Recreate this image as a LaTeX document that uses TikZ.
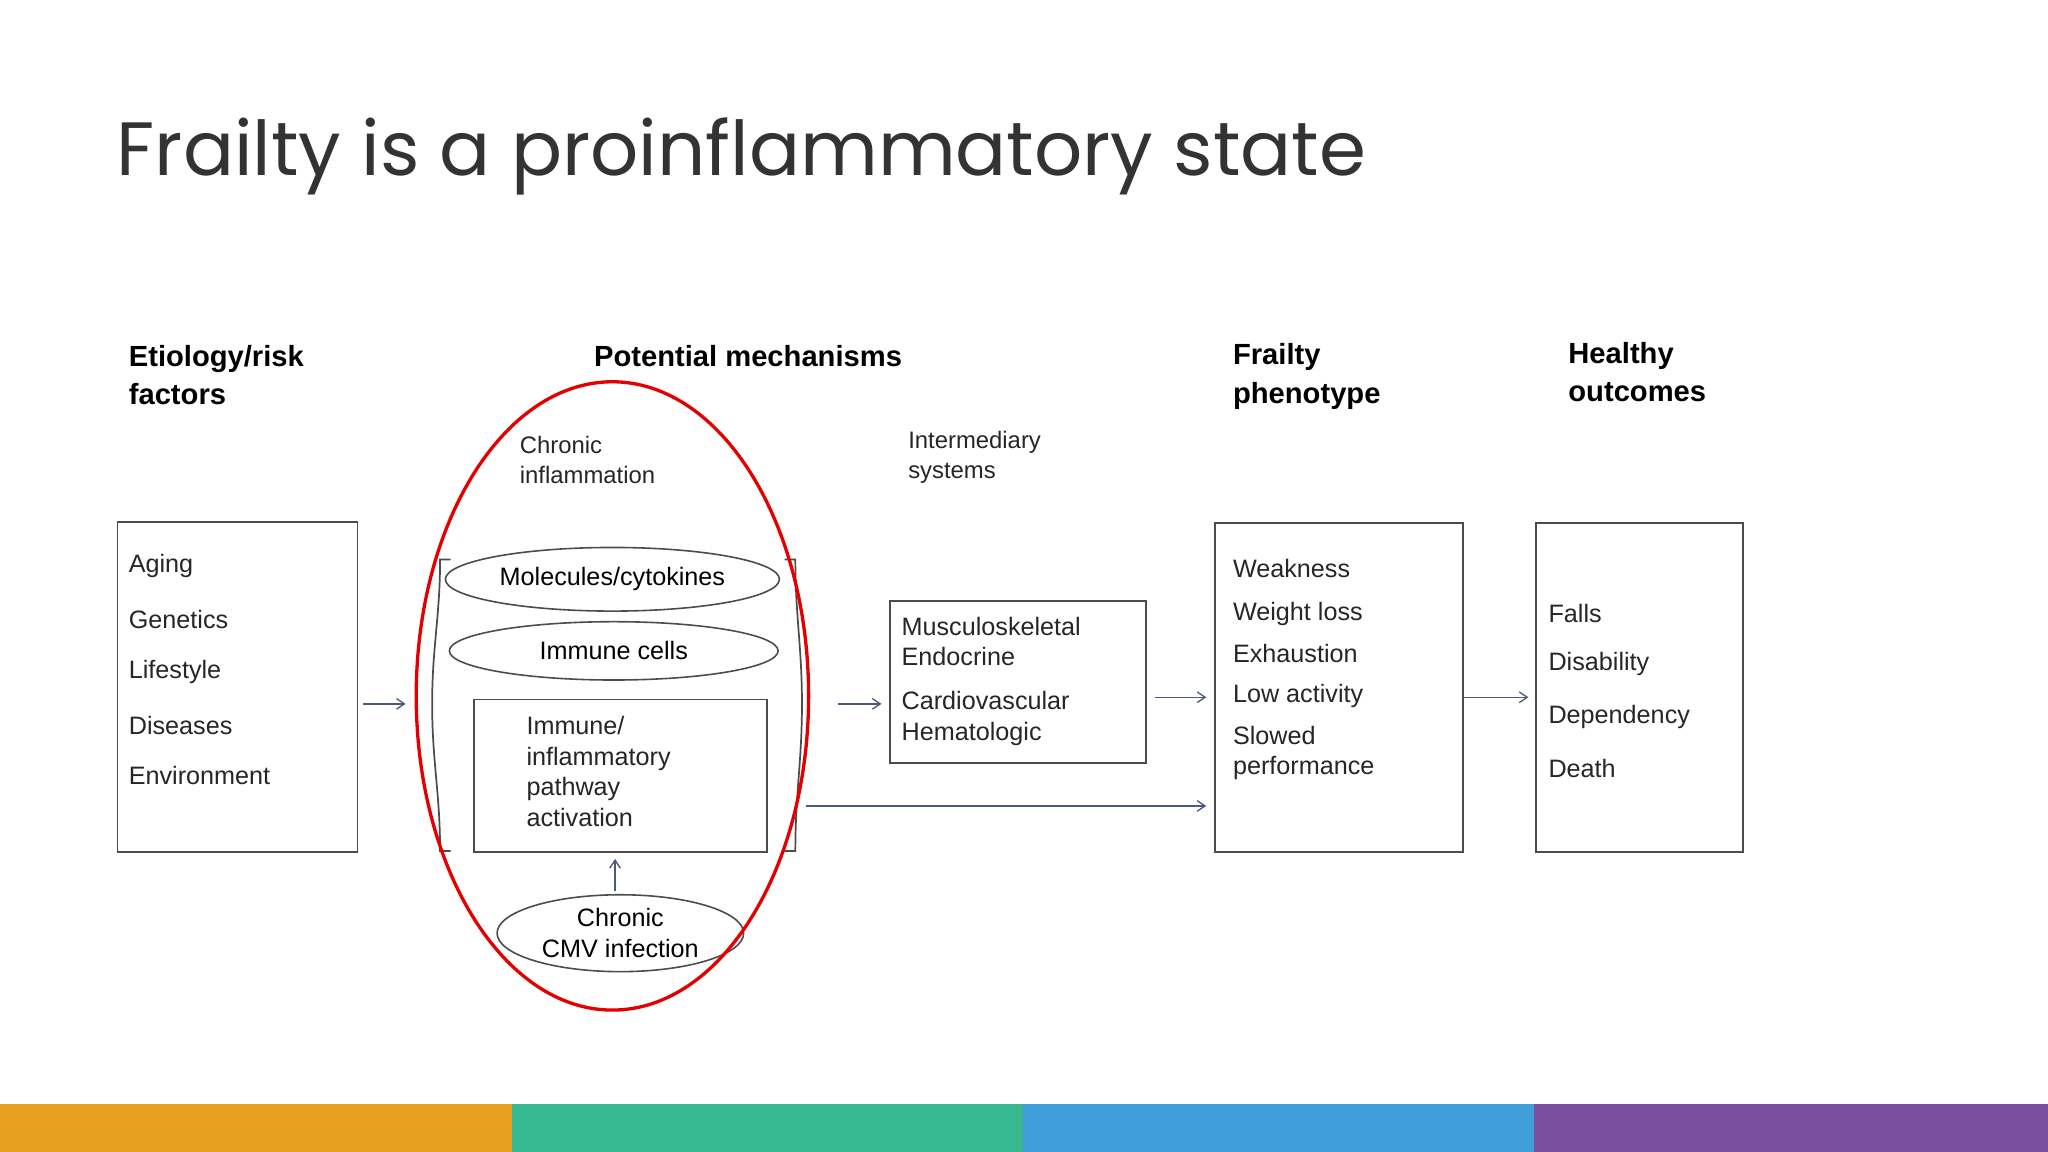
\documentclass[tikz,border=0pt]{standalone}
\usepackage{fontspec}
\setmainfont{Liberation Sans}
\newfontfamily\titlefont{Poppins}
\usetikzlibrary{arrows.meta,shapes.geometric}
\definecolor{arr}{HTML}{4A5A7A}
\definecolor{barA}{HTML}{E8A020}
\definecolor{barB}{HTML}{38B890}
\definecolor{barC}{HTML}{409FD8}
\definecolor{barD}{HTML}{7B4FA0}
\begin{document}
\begin{tikzpicture}[x=1pt,y=-1pt,
  txt/.style={anchor=west,inner sep=0,font=\fontsize{19}{23}\selectfont,text=black!85,align=left},
  hd/.style={anchor=north west,inner sep=0,font=\fontsize{22}{29}\selectfont\bfseries,align=left},
  bx/.style={draw=black!70,line width=1.3pt},
  el/.style={draw=black!70,line width=1.2pt,ellipse,inner sep=0,align=center,font=\fontsize{19}{23}\selectfont},
  ar/.style={draw=arr,line width=1pt,-{Straight Barb[length=6pt,width=8pt]}}]
\useasboundingbox (0,0) rectangle (1545,869);
\fill[white] (0,0) rectangle (1545,869);
\fill[barA] (0,833) rectangle (386,869);
\fill[barB] (386,833) rectangle (772,869);
\fill[barC] (772,833) rectangle (1157,869);
\fill[barD] (1157,833) rectangle (1545,869);
\node[anchor=west,inner sep=0,font=\fontsize{57}{66}\selectfont\titlefont,text=black!80] (title) at (88,118) {Frailty is a proinflammatory state};
% headers
\node[hd] (h1) at (97,260) {Etiology/risk\\factors};
\node[hd] (h2) at (448,260) {Potential mechanisms};
\node[hd] (h3) at (930,259) {Frailty\\phenotype};
\node[hd] (h4) at (1183,258) {Healthy\\outcomes};
% box 1
\node[bx,minimum width=181,minimum height=249,anchor=north west] (b1) at (88,393) {};
\node[txt] (a1) at (97,427) {Aging};
\node[txt] (a2) at (97,467) {Genetics};
\node[txt] (a3) at (97,507) {Lifestyle};
\node[txt] (a4) at (97,547) {Diseases};
\node[txt] (a5) at (97,585) {Environment};
\coordinate (p1) at (274,531); \coordinate (p2) at (306,531);
\draw[ar] (p1) -- (p2);
% brackets
\draw[black!70,line width=1.3pt] (340,422) -- (332,422) to[out=-90,in=90] (326,531) to[out=-90,in=90] (332,642) -- (340,642);
\draw[black!70,line width=1.3pt] (592,422) -- (600,422) to[out=-90,in=90] (605,531) to[out=-90,in=90] (600,642) -- (592,642);
\node[txt,font=\fontsize{18}{23}\selectfont] (ci) at (392,347) {Chronic\\inflammation};
\node[el,minimum width=252,minimum height=48] (m1) at (462,437) {Molecules/cytokines};
\node[el,minimum width=248,minimum height=44] (m2) at (463,491) {Immune cells};
\node[bx,minimum width=221,minimum height=115,anchor=north west] (m3) at (357,527) {};
\node[txt] (m3t) at (397,582) {Immune/\\inflammatory\\pathway\\activation};
\node[el,minimum width=186,minimum height=58] (cmv) at (468,704) {Chronic\\CMV infection};
\coordinate (q1) at (464,672); \coordinate (q2) at (464,648);
\draw[ar] (q1) -- (q2);
\node[draw=red!90!black,line width=2.5pt,ellipse,minimum width=296,minimum height=474,inner sep=0] (red) at (462,525) {};
% intermediary
\node[txt,font=\fontsize{18}{23}\selectfont] (is) at (685,345) {Intermediary\\systems};
\draw[ar] (632,531) -- (665,531);
\node[bx,minimum width=193,minimum height=122,anchor=north west] (b2) at (671,453) {};
\node[txt] (i1) at (680,484) {Musculoskeletal\\Endocrine};
\node[txt] (i2) at (680,542) {Cardiovascular\\Hematologic};
\draw[ar] (871,526) -- (910,526);
\draw[ar] (608,608) -- (910,608);
% frailty phenotype
\node[bx,minimum width=187,minimum height=248,anchor=north west] (b3) at (916,394) {};
\node[txt] (f1) at (930,429) {Weakness};
\node[txt] (f2) at (930,463) {Weight loss};
\node[txt] (f3) at (930,493) {Exhaustion};
\node[txt] (f4) at (930,525) {Low activity};
\node[txt] (f5) at (930,568) {Slowed\\performance};
\draw[ar] (1103,526) -- (1153,526);
% outcomes
\node[bx,minimum width=156,minimum height=248,anchor=north west] (b4) at (1158,394) {};
\node[txt] (o1) at (1168,463) {Falls};
\node[txt] (o2) at (1168,501) {Disability};
\node[txt] (o3) at (1168,541) {Dependency};
\node[txt] (o4) at (1168,580) {Death};
\end{tikzpicture}
\end{document}
